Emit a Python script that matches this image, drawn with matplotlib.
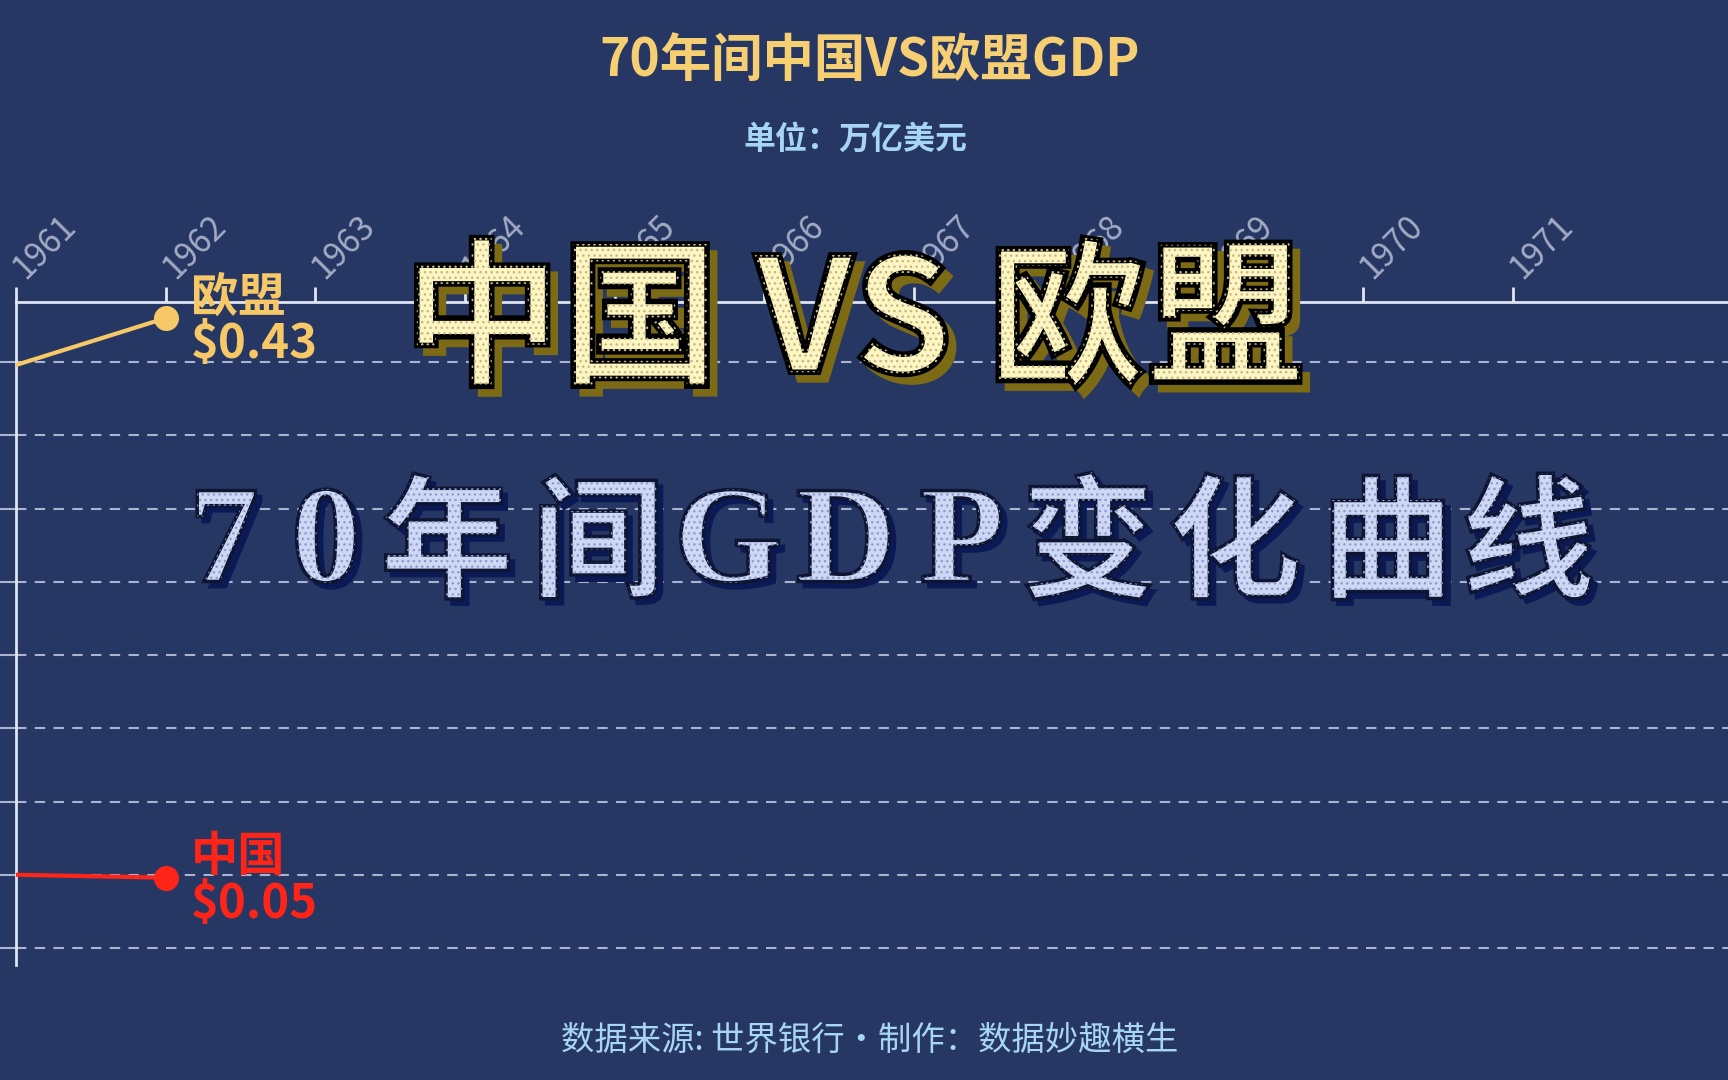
import matplotlib.pyplot as plt
import matplotlib.patheffects as pe
from matplotlib.transforms import ScaledTranslation

# data (trillion USD)
years = [1961, 1962]
eu_gdp = [0.398, 0.43]
china_gdp = [0.050, 0.048]
tick_years = list(range(1961, 1972))
grid_values = [0.0, 0.05, 0.10, 0.15, 0.20, 0.25, 0.30, 0.35, 0.40]

bg = "#273764"
eu_color = "#f7c867"
cn_color = "#ff2418"
axis_color = "#dfe5f2"
grid_color = "#aab3cf"

plt.rcParams['font.family'] = ['Noto Sans CJK SC', 'DejaVu Sans']

fig = plt.figure(figsize=(17.28, 10.8), dpi=100, facecolor=bg)
ax = fig.add_axes([16 / 1728, 1 - 965 / 1080, 1 - 16 / 1728, 663 / 1080])
ax.set_facecolor(bg)

ax.set_xlim(1961, 1961 + 1712 / 149.7)
ax.set_ylim(-0.0116, 0.441)

for s in ["right", "bottom"]:
    ax.spines[s].set_visible(False)
for s in ["top", "left"]:
    ax.spines[s].set_color(axis_color)
    ax.spines[s].set_linewidth(2)

ax.xaxis.tick_top()
ax.set_xticks(tick_years)
ax.set_xticklabels([str(y) for y in tick_years])
ax.tick_params(axis="x", length=11, width=2, color=axis_color,
               labelcolor="#a3abc4", labelsize=24, pad=5)
shift = ScaledTranslation(9 / 100, 0, fig.dpi_scale_trans)
for lbl in ax.get_xticklabels():
    lbl.set_rotation(45)
    lbl.set_ha("left")
    lbl.set_va("baseline")
    lbl.set_rotation_mode("anchor")
    lbl.set_transform(lbl.get_transform() + shift)

ax.set_yticks(grid_values)
ax.tick_params(axis="y", length=11.5, width=1.5, color=grid_color, labelleft=False)
ax.yaxis.grid(True, color=grid_color, linewidth=1.5, linestyle=(0, (5, 4)))
ax.set_axisbelow(True)

# lines
ax.plot(years, eu_gdp, color=eu_color, linewidth=3, solid_capstyle="round", zorder=3)
ax.plot(years[-1:], eu_gdp[-1:], "o", color=eu_color, markersize=17, zorder=4)
ax.plot(years, china_gdp, color=cn_color, linewidth=3, solid_capstyle="round", zorder=3)
ax.plot(years[-1:], china_gdp[-1:], "o", color=cn_color, markersize=17, zorder=4)

ax.annotate("欧盟\n\\$%.2f" % eu_gdp[-1], (years[-1], eu_gdp[-1]), xytext=(18, -2),
            textcoords="offset points", ha="left", va="center", fontsize=34,
            fontweight="heavy", color=eu_color, linespacing=0.95, zorder=5)
ax.annotate("中国\n\\$%.2f" % china_gdp[-1], (years[-1], china_gdp[-1]), xytext=(18, -2),
            textcoords="offset points", ha="left", va="center", fontsize=34,
            fontweight="heavy", color=cn_color, linespacing=0.95, zorder=5)

# titles
fig.text(870 / 1728, 1 - 60 / 1080, "70年间中国VS欧盟GDP", ha="center", va="center",
         fontsize=37, fontweight="bold", color="#f6cf73")
fig.text(855 / 1728, 1 - 140 / 1080, "单位：万亿美元", ha="center", va="center",
         fontsize=23, fontweight="bold", color="#a7d6f4")
fig.text(870 / 1728, 1 - 1040 / 1080, "数据来源: 世界银行•制作：数据妙趣横生",
         ha="center", va="center", fontsize=24, fontweight="medium", color="#a7d6f4")

# big overlay caption, line 1
fx1 = [
    pe.PathPatchEffect(offset=(6, -6), facecolor="#7d6a14", edgecolor="#7d6a14", linewidth=3),
    pe.PathPatchEffect(facecolor="#fdf6c3", edgecolor="black", linewidth=4),
    pe.PathPatchEffect(facecolor="none", edgecolor="#c4b985", hatch="...", linewidth=0),
]
fig.text(854 / 1728, 1 - 326 / 1080, "中国 VS 欧盟", ha="center", va="center",
         fontsize=114, fontweight="black", color="#fdf6c3", path_effects=fx1)

# big overlay caption, line 2
fx2 = [
    pe.PathPatchEffect(offset=(4, -4), facecolor="#0b1a55", edgecolor="#0b1a55", linewidth=2),
    pe.PathPatchEffect(facecolor="#cdd8f5", edgecolor="#0e1533", linewidth=2.5),
    pe.PathPatchEffect(facecolor="none", edgecolor="#8e9ccc", hatch="...", linewidth=0),
]
line2 = "70年间GDP变化曲线"
line2_x = [224, 326, 447, 598, 728, 846, 962, 1088, 1235, 1387, 1528]
for ch, px in zip(line2, line2_x):
    if ch.isascii():
        fam, size = ["Liberation Serif", "DejaVu Serif"], 100
    else:
        fam, size = ["Noto Sans CJK SC", "DejaVu Sans"], 96
    fig.text(px / 1728, 1 - 548 / 1080, ch, ha="center", va="center", family=fam,
             fontsize=size, fontweight="bold", color="#cdd8f5", path_effects=fx2)

fig.savefig("out.png", dpi=100, facecolor=bg)
